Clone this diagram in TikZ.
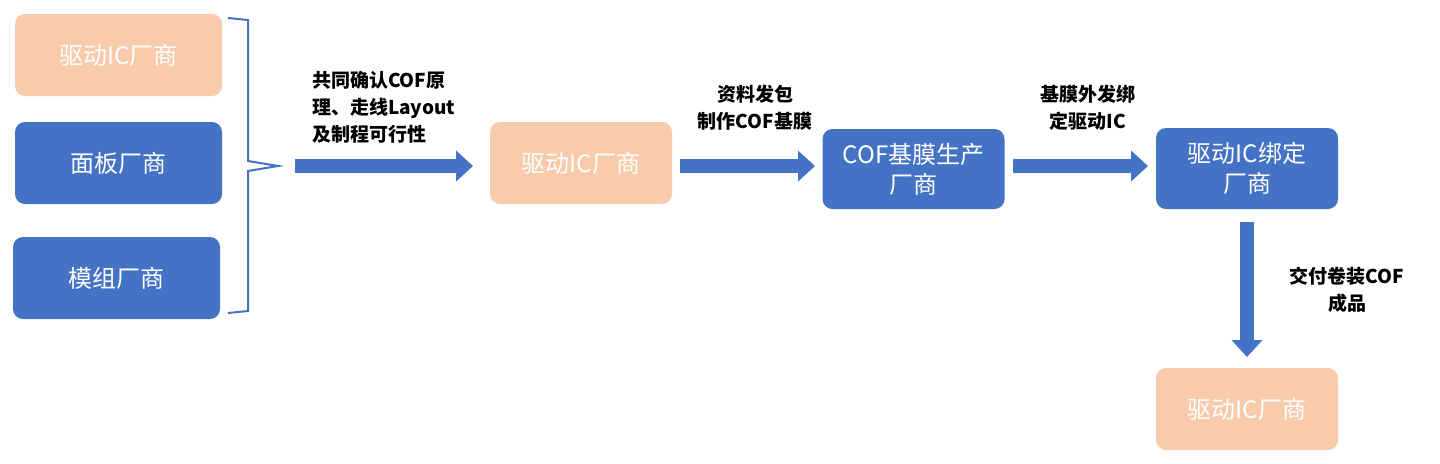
\documentclass[tikz,border=0pt]{standalone}
\usepackage{fontspec}
\setmainfont{Noto Sans CJK SC}
\usetikzlibrary{arrows.meta}
\definecolor{bblue}{HTML}{4472C4}
\definecolor{peach}{HTML}{F8CBAD}
\begin{document}
\begin{tikzpicture}[x=0.5pt,y=-0.5pt,
  box/.style={rounded corners=5pt,minimum width=91pt,minimum height=41pt,text=white,font=\fontsize{12}{15}\selectfont,align=center,inner sep=0pt},
  wide/.style={minimum width=103.5pt},
  bbox/.style={box,fill=bblue},
  pbox/.style={box,fill=peach},
  flow/.style={draw=bblue,line width=7pt,-{Triangle[width=15pt,length=8.5pt]}},
  lab/.style={font=\bfseries\fontsize{9.5}{13.5}\selectfont,align=center}]
\useasboundingbox[fill=white] (0,0) rectangle (1440,463);
\node[pbox,wide] (a) at (118.5,55) {驱动IC厂商};
\node[bbox,wide] (b) at (118.5,163) {面板厂商};
\node[bbox,wide] (c) at (116.5,278) {模组厂商};
\draw[bblue,line width=1pt] (228,18) -- (248,20) -- (248,161) -- (278,166) -- (248,171) -- (248,311) -- (228,313);
\coordinate (t) at (295,166);
\node[pbox] (m) at (581,163) {驱动IC厂商};
\node[bbox,minimum height=40pt] (f) at (913.5,169) {COF基膜生产\\厂商};
\node[bbox,minimum height=40.5pt] (g) at (1247,168.5) {驱动IC绑定\\厂商};
\node[pbox] (h) at (1247,409) {驱动IC厂商};
\draw[flow] (t) -- (473,166);
\draw[flow] (680,166) -- (815,166);
\draw[flow] (1013,166) -- (1148,166);
\draw[flow] (1247,222) -- (1247,357);
\node[lab,align=left,anchor=west] (l1) at (305,107) {共同确认COF原\\理、走线Layout\\及制程可行性};
\node[lab] (l2) at (755,108) {资料发包\\制作COF基膜};
\node[lab] (l3) at (1088,108) {基膜外发绑\\定驱动IC};
\node[lab] (l4) at (1347,290) {交付卷装COF\\成品};
\end{tikzpicture}
\end{document}
